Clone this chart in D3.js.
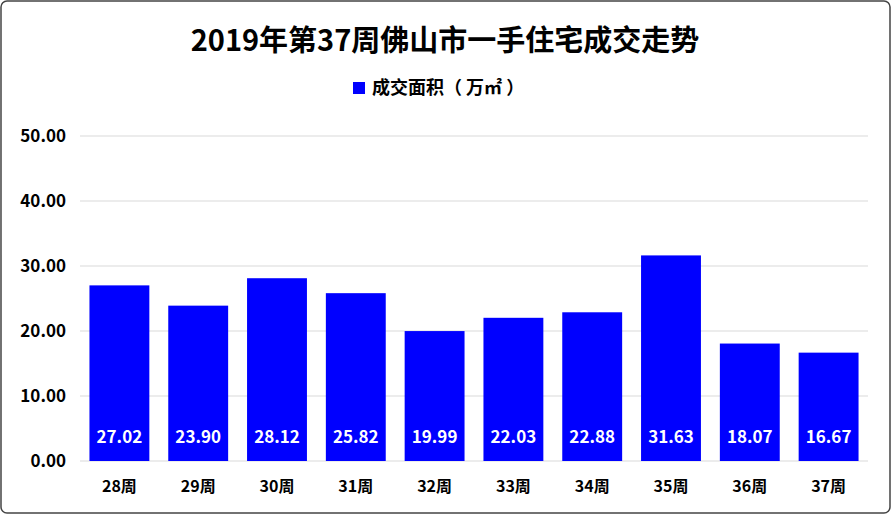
<!DOCTYPE html>
<html><head><meta charset="utf-8">
<script src="https://cdn.jsdelivr.net/npm/d3@7"></script>
<style>body{margin:0;background:#fff}svg{display:block;font-family:"Noto Sans CJK SC","Noto Sans",sans-serif}</style>
</head><body><svg id="c" width="891" height="514"></svg>
<script>
const weeks = ['28周','29周','30周','31周','32周','33周','34周','35周','36周','37周'];
const area = [27.02, 23.90, 28.12, 25.82, 19.99, 22.03, 22.88, 31.63, 18.07, 16.67];
const yTicks = [0, 10, 20, 30, 40, 50];

const svg = d3.select('#c');
svg.append('rect').attr('x', 1).attr('y', 1).attr('width', 889).attr('height', 512)
  .attr('rx', 6).attr('fill', '#fff').attr('stroke', '#444').attr('stroke-width', 1.5);

const L = 80, R = 868, T = 136, B = 461;
const x = d3.scaleBand().domain(weeks).range([L, R]).paddingInner(0.24).paddingOuter(0.12);
const y = d3.scaleLinear().domain([0, 50]).range([B, T]);

// grid
svg.append('g').selectAll('line').data(yTicks).join('line')
  .attr('x1', L).attr('x2', R).attr('y1', d => y(d)).attr('y2', d => y(d))
  .attr('stroke', '#d9d9d9');

// y axis labels
svg.append('g').selectAll('text').data(yTicks).join('text')
  .attr('x', 66).attr('y', d => y(d)).attr('dy', '0.35em').attr('text-anchor', 'end')
  .attr('font-size', 17).attr('font-weight', 'bold').attr('fill', '#000')
  .text(d => d.toFixed(2));

// bars
svg.append('g').selectAll('rect').data(area).join('rect')
  .attr('x', (d, i) => x(weeks[i])).attr('width', x.bandwidth())
  .attr('y', d => y(d)).attr('height', d => B - y(d)).attr('fill', '#0000ff');

svg.append('g').selectAll('text').data(area).join('text')
  .attr('x', (d, i) => x(weeks[i]) + x.bandwidth() / 2).attr('y', 437).attr('dy', '0.35em')
  .attr('text-anchor', 'middle').attr('fill', '#fff').attr('font-size', 17).attr('font-weight', 'bold')
  .text(d => d.toFixed(2));

// x labels
svg.append('g').selectAll('text').data(weeks).join('text')
  .attr('x', d => x(d) + x.bandwidth() / 2).attr('y', 486).attr('dy', '0.35em')
  .attr('text-anchor', 'middle').attr('font-size', 16).attr('font-weight', 'bold')
  .text(d => d);

// title
svg.append('text').attr('x', 445).attr('y', 41).attr('dy', '0.35em').attr('text-anchor', 'middle')
  .attr('font-size', 29).attr('font-weight', 'bold').text('2019年第37周佛山市一手住宅成交走势');

// legend
svg.append('rect').attr('x', 353).attr('y', 82).attr('width', 12).attr('height', 12).attr('fill', '#0000ff');
svg.append('text').attr('x', 372).attr('y', 88).attr('dy', '0.35em')
  .attr('font-size', 18).attr('font-weight', 'bold').text('成交面积（ 万㎡ ）');
</script></body></html>
